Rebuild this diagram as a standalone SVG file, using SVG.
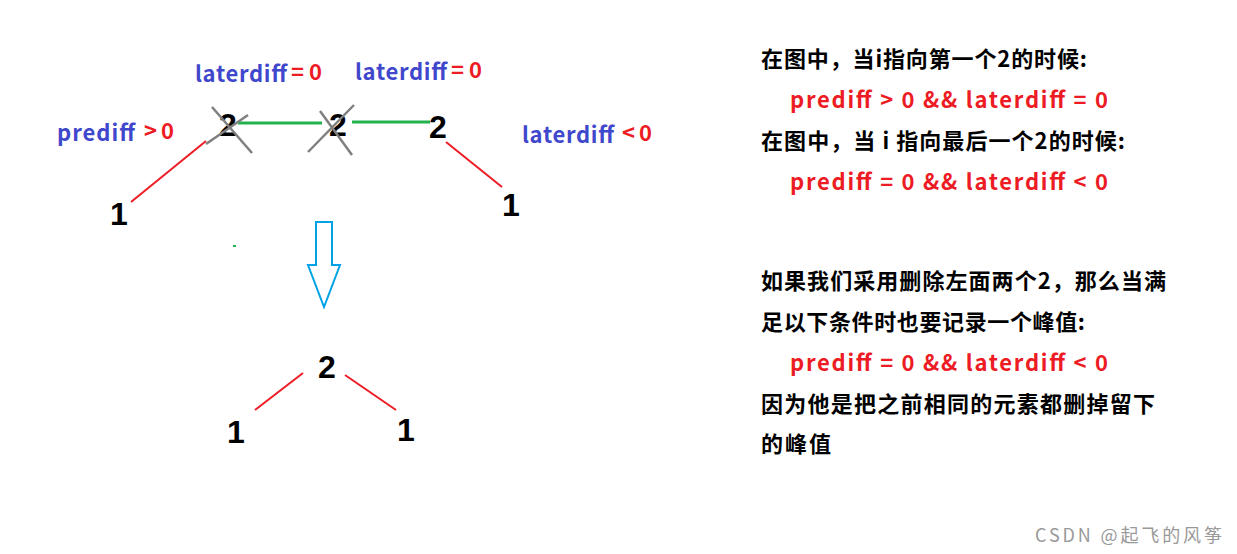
<svg xmlns="http://www.w3.org/2000/svg" width="1237" height="554" viewBox="0 0 1237 554">
<style>
.t{font-family:"Noto Sans CJK SC","Liberation Sans",sans-serif;font-weight:bold;font-size:22px}
.b{fill:#3f48cc}.r{fill:#ed1c24}.k{fill:#000}
.n{font-family:"Liberation Sans",sans-serif;font-weight:bold;font-size:32px;fill:#000;text-anchor:middle}
.red{stroke:#ed1c24;stroke-width:2}.grn{stroke:#22b14c;stroke-width:3}.x{stroke:#7f7f7f;stroke-width:2.5}
</style>
<rect width="1237" height="554" fill="#fff"/>
<g id="connectors">
<line class="grn" x1="238" y1="123" x2="322" y2="123"/>
<line class="grn" x1="352" y1="122" x2="430" y2="122"/>
<line class="red" x1="131" y1="202" x2="206" y2="141"/>
<line class="red" x1="446" y1="142" x2="502" y2="187"/>
<line class="red" x1="255" y1="410" x2="303" y2="373"/>
<line class="red" x1="345" y1="375" x2="396" y2="410"/>
<rect x="233" y="245" width="3" height="2" fill="#22b14c"/>
<path d="M316,222 H332 V265 H340 L324,307 L308,265 H316 Z" fill="none" stroke="#00a2e8" stroke-width="2"/>
</g>
<g id="n2a"><text class="n" x="228" y="136">2</text>
<line class="x" x1="212" y1="107" x2="252" y2="153"/><line class="x" x1="206" y1="144" x2="248" y2="115"/></g>
<g id="n2b"><text class="n" x="338" y="136">2</text>
<line class="x" x1="320" y1="111" x2="352" y2="155"/><line class="x" x1="308" y1="152" x2="354" y2="105"/></g>
<g id="n2c"><text class="n" x="438" y="138">2</text></g>
<g id="n1a"><text class="n" x="119" y="225">1</text></g>
<g id="n1b"><text class="n" x="511" y="216">1</text></g>
<g id="n2d"><text class="n" x="327" y="378">2</text></g>
<g id="n1c"><text class="n" x="236" y="443">1</text></g>
<g id="n1d"><text class="n" x="406" y="441">1</text></g>
<g id="labels">
<text class="t b" x="195" y="82" textLength="92">laterdiff</text><text class="t r" x="291" y="80" textLength="31">=0</text>
<text class="t b" x="355" y="80" textLength="92">laterdiff</text><text class="t r" x="451" y="78" textLength="31">=0</text>
<text class="t b" x="57" y="141" textLength="78">prediff</text><text class="t r" x="144" y="139" textLength="30">&gt;0</text>
<text class="t b" x="522" y="143" textLength="92">laterdiff</text><text class="t r" x="622" y="141" textLength="30">&lt;0</text>
</g>
<g id="notes" class="t">
<text class="k" x="761" y="67" textLength="326">在图中，当i指向第一个2的时候:</text>
<text class="r" x="790" y="108" textLength="318">prediff &gt; 0 &amp;&amp; laterdiff = 0</text>
<text class="k" x="761" y="149" textLength="364">在图中，当 i 指向最后一个2的时候:</text>
<text class="r" x="790" y="190" textLength="318">prediff = 0 &amp;&amp; laterdiff &lt; 0</text>
<text class="k" x="761" y="289" textLength="405">如果我们采用删除左面两个2，那么当满</text>
<text class="k" x="761" y="330" textLength="324">足以下条件时也要记录一个峰值:</text>
<text class="r" x="790" y="371" textLength="318">prediff = 0 &amp;&amp; laterdiff &lt; 0</text>
<text class="k" x="761" y="412" textLength="394">因为他是把之前相同的元素都删掉留下</text>
<text class="k" x="761" y="452" textLength="70">的峰值</text>
</g>
<text x="1035" y="542" font-family="'Noto Sans CJK SC',sans-serif" font-size="18" fill="#999" textLength="187">CSDN @起飞的风筝</text>
</svg>
